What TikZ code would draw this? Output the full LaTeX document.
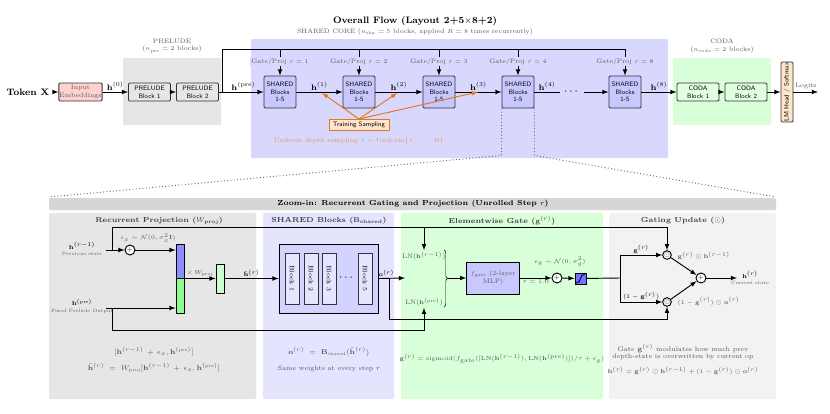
\documentclass[tikz,border=0pt]{standalone}
\usepackage{amsmath,amssymb}
\usepackage{tikz}
\usetikzlibrary{arrows,calc,shapes,decorations.pathreplacing}
\tikzset{>=latex}
\definecolor{corebg}{RGB}{216,216,255}
\definecolor{greenbg}{RGB}{216,255,216}
\definecolor{graybg}{RGB}{230,230,230}
\definecolor{lightbg}{RGB}{242,242,242}
\definecolor{barbg}{RGB}{214,214,214}
\definecolor{sharedfill}{RGB}{200,200,255}
\definecolor{orng}{RGB}{230,120,20}
\definecolor{txtgray}{RGB}{90,90,90}
\newcommand{\tinyfont}{\fontsize{5.5}{6.5}\selectfont}
\newcommand{\formfont}{\fontsize{5.6}{8}\selectfont}
\newcommand{\gfont}{\fontsize{5}{7}\selectfont}
\newcommand{\microfont}{\fontsize{4}{4.5}\selectfont}
\tikzstyle{block}=[rectangle,draw=black!80,thick,rounded corners=1pt,font=\sffamily\tinyfont,align=center,inner sep=0.5pt,minimum width=1.26cm,minimum height=0.54cm]
\tikzstyle{shared}=[block,fill=sharedfill,minimum width=0.96cm,minimum height=0.96cm]
\tikzstyle{lbl}=[font=\tinyfont,text=txtgray,inner sep=1pt]
\tikzstyle{hlbl}=[font=\scriptsize,inner sep=1pt]
\tikzstyle{panel}=[rounded corners=1pt,draw=none]
\tikzstyle{ptitle}=[font=\fontsize{6.2}{7}\selectfont\bfseries,text=black!75]
\tikzstyle{inblock}=[rectangle,draw=black!80,thick,fill=white!90!blue,minimum width=0.42cm,minimum height=1.53cm,inner sep=0pt]
\tikzstyle{opc}=[circle,draw=black,thick,fill=white,inner sep=0pt,minimum size=0.3cm,font=\tinyfont]
\tikzstyle{odot}=[circle,draw=black,thick,fill=white,inner sep=0pt,minimum size=0.26cm,font=\tinyfont]
\tikzstyle{formula}=[font=\formfont,text=txtgray,align=center]

\begin{document}
\begin{tikzpicture}[x=0.03cm,y=-0.03cm,thick]
	\useasboundingbox (0,0) rectangle (830,413);
	
	% backgrounds
	\fill[panel,fill=graybg] (123,58) rectangle (221,125);
	\fill[panel,fill=corebg] (251,39) rectangle (668,158);
	\fill[panel,fill=greenbg] (673,58) rectangle (771,125);
	
	\node[font=\footnotesize\bfseries] (title) at (415,21) {Overall Flow (Layout 2+5$\times$8+2)};
	\node[lbl] (coretitle) at (415,32) {SHARED CORE ($n_{\text{sha}}=5$ blocks, applied $R=8$ times recurrently)};
	\node[lbl,align=center] (pretitle) at (172,46) {PRELUDE\\($n_{\text{pre}}=2$ blocks)};
	\node[lbl,align=center] (codatitle) at (722,46) {CODA\\($n_{\text{coda}}=2$ blocks)};
	
	% main chain
	\node[font=\footnotesize\bfseries] (tok) at (28,92) {Token X};
	\node[block,fill=red!18,font=\tinyfont,text=txtgray] (emb) at (80.5,92) {Input\\Embeddings};
	\node[block,fill=graybg] (pre1) at (149.5,92) {PRELUDE\\Block 1};
	\node[block,fill=graybg] (pre2) at (197.5,92) {PRELUDE\\Block 2};
	\node[shared] (sh1) at (280,92) {SHARED\\Blocks\\1-5};
	\node[shared] (sh2) at (359,92) {SHARED\\Blocks\\1-5};
	\node[shared] (sh3) at (439,92) {SHARED\\Blocks\\1-5};
	\node[shared] (sh4) at (518,92) {SHARED\\Blocks\\1-5};
	\node (dots) at (572,92) {$\cdots$};
	\node[shared] (sh8) at (625,92) {SHARED\\Blocks\\1-5};
	\node[block,fill=greenbg!70!green!30] (coda1) at (698,92) {CODA\\Block 1};
	\node[block,fill=greenbg!70!green!30] (coda2) at (746,92) {CODA\\Block 2};
	\node[block,fill=orange!20,rotate=90,minimum width=1.8cm,minimum height=0.36cm] (lm) at (787,92) {LM Head / Softmax};
	\coordinate (logend) at (818,92);
	\node[lbl] (logits) at (806,86) {Logits};
	
	\draw[->] (tok) -- (emb);
	\draw[->] (emb) -- node[hlbl,above] {$\mathbf{h}^{(0)}$} (pre1);
	\draw[->] (pre1) -- (pre2);
	\draw[->] (pre2) -- node[hlbl,above,pos=0.55] {$\mathbf{h}^{(\text{pre})}$} (sh1);
	\draw[->] (sh1) -- node[hlbl,above] {$\mathbf{h}^{(1)}$} (sh2);
	\draw[->] (sh2) -- node[hlbl,above] {$\mathbf{h}^{(2)}$} (sh3);
	\draw[->] (sh3) -- node[hlbl,above] {$\mathbf{h}^{(3)}$} (sh4);
	\draw (sh4) -- node[hlbl,above] {$\mathbf{h}^{(4)}$} (dots);
	\draw[->] (dots) -- (sh8);
	\draw[->] (sh8) -- node[hlbl,above] {$\mathbf{h}^{(8)}$} (coda1);
	\draw[->] (coda1) -- (coda2);
	\draw[->] (coda2) -- (lm);
	\draw[->] (lm) -- (logend);
	
	% gate/proj bus
	\coordinate (busL) at (222,92);
	\coordinate (busR) at (625,49);
	\draw (busL) |- (busR);
	\foreach \s/\r in {sh1/1,sh2/2,sh3/3,sh4/4,sh8/8}{
		\draw[->] (\s.north |- busR) -- (\s.north);
		\node[lbl,fill=corebg] at ($(\s.north)+(0,-14)$) {Gate/Proj $r=\r$};
	}
	
	% training sampling
	\node[block,fill=orange!20,draw=orng,minimum width=1.8cm,minimum height=0.33cm,rounded corners=0pt] (train) at (359,125) {Training Sampling};
	\coordinate (t1) at (322,93);
	\coordinate (t2) at (397,93);
	\coordinate (t3) at (478,92);
	\foreach \t in {t1,t2,t3}
		\draw[->,orng] (train.north) -- (\t);
	\node[lbl,text=orng!80] (unif) at (359,141) {Uniform depth sampling $r\sim\mathrm{Uniform}\{1,\ldots,R\}$};
	
	% zoom connectors
	\coordinate (zl) at (49,197);
	\coordinate (zr) at (776,197);
	\draw[dotted,black!60] (sh4.south west) -- ++(0,47) -- (zl);
	\draw[dotted,black!60] (sh4.south east) -- ++(0,47) -- (zr);
	
	% ----- zoom-in -----
	\fill[panel,fill=barbg] (49,198) rectangle (776,210);
	\node[ptitle,text=black] (ztitle) at (413,204) {Zoom-in: Recurrent Gating and Projection (Unrolled Step $r$)};
	\fill[panel,fill=graybg] (49,213) rectangle (256,399);
	\fill[panel,fill=corebg!70!white] (263,213) rectangle (394,399);
	\fill[panel,fill=greenbg] (401,213) rectangle (603,399);
	\fill[panel,fill=lightbg] (609,213) rectangle (776,399);
	\node[ptitle] at (159,221) {Recurrent Projection ($W_{\text{proj}}$)};
	\node[ptitle] at (329,221) {SHARED Blocks ($\mathbf{B}_{\text{shared}}$)};
	\node[ptitle] at (502,221) {Elementwise Gate ($\mathbf{g}^{(r)}$)};
	\node[ptitle] at (683,221) {Gating Update ($\odot$)};
	
	% projection panel
	\node[lbl,text=black,align=center] (hprev) at (82,249) {$\mathbf{h}^{(r-1)}$\\[-1pt]{\microfont\color{txtgray} Previous state}};
	\node[lbl,text=black,align=center] (hpre) at (82,306) {$\mathbf{h}^{(\text{pre})}$\\[-1pt]{\microfont\color{txtgray} Fixed Prelude Output}};
	\coordinate (hprevE) at (106,250);
	\coordinate (hpreE) at (106,308);
	\coordinate (jt) at (112,250);
	\coordinate (jb) at (112,308);
	\node[opc] (plusx) at (130,250) {$+$};
	\node[lbl] at (148,238) {$\epsilon_x\sim\mathcal{N}(0,\sigma_x^2\mathbf{I})$};
	\node[rectangle,draw=black,thick,fill=blue!45,minimum width=0.24cm,minimum height=1.02cm,inner sep=0pt] (catA) at (180,261) {};
	\node[rectangle,draw=black,thick,fill=green!45,minimum width=0.24cm,minimum height=1.05cm,inner sep=0pt] (catB) at (180,295.5) {};
	\node[rectangle,draw=black,thick,fill=green!20,minimum width=0.24cm,minimum height=0.87cm,inner sep=0pt] (proj) at (220,278.5) {};
	\draw[->] (hprevE) -- (plusx);
	\draw[->] (plusx) -- (plusx -| catA.west);
	\draw[->] (hpreE) -- (hpreE -| catB.west);
	\draw[->] (catA.south east) -- node[lbl,above] {$\times\,W_{\text{proj}}$} (proj.west |- catA.south);
	
	% shared panel
	\node[rectangle,draw=black,thick,fill=sharedfill!80,minimum width=2.97cm,minimum height=2.07cm] (bshared) at (328.5,278.5) {};
	\foreach \n/\x/\l in {b1/292/1,b2/311/2,b3/329/3,b5/365/5}
		\node[inblock] (\n) at (\x,278.5) {\rotatebox{-90}{\tinyfont Block \l}};
	\node (bdots) at (347,278) {$\cdots$};
	\draw[->] (proj.east |- bshared) -- node[lbl,text=black,above] {$\tilde{\mathbf{h}}^{(r)}$} (bshared.west);
	\coordinate (oend) at (405,278);
	\draw[->] (bshared.east) -- node[lbl,text=black,above,pos=0.3] {$\mathbf{o}^{(r)}$} (oend);
	\coordinate (jo) at (389,278);
	
	% gate panel
	\node[lbl] (lnA) at (424,256) {LN($\mathbf{h}^{(r-1)}$)};
	\node[lbl] (lnB) at (424,302) {LN($\mathbf{h}^{(\text{pre})}$)};
	\draw[decorate,decoration={brace,amplitude=3pt},thin] (444,250) -- (444,307);
	\coordinate (brtip) at (448,278);
	\node[rectangle,draw=black,thick,fill=sharedfill,minimum width=1.56cm,minimum height=0.96cm,font=\tinyfont,text=txtgray,align=center] (fgate) at (493,278) {$f_{\text{gate}}$ (2-layer\\MLP)};
	\draw[->] (brtip) -- (fgate);
	\node[opc] (plusg) at (557,278) {$+$};
	\draw[->] (fgate) -- node[lbl,below] {$\tau=1.0$} (plusg);
	\node[lbl] at (560,262) {$\epsilon_g\sim\mathcal{N}(0,\sigma_g^2)$};
	\node[rectangle,draw=black,thick,fill=blue!55,minimum size=0.33cm,inner sep=0pt] (sig) at (580.5,278.5) {};
	\draw[blue!30!black] (576,283) .. controls (582,283) and (579,274) .. (585,274);
	\draw[->] (plusg) -- (sig);
	
	% update panel
	\node[odot] (gup) at (667,255) {$\odot$};
	\node[odot] (gdn) at (667,302) {$\odot$};
	\node[opc] (plush) at (701,278) {$+$};
	\coordinate (jg) at (620,278);
	\coordinate (hend) at (737,278);
	\node[lbl,text=black,align=center] (hout) at (750,278) {$\mathbf{h}^{(r)}$\\[-1pt]{\microfont\color{txtgray} Current state}};
	\draw (sig) -- (jg);
	\draw[->] (jg) |- node[lbl,text=black,above,pos=0.75] {$\mathbf{g}^{(r)}$} (gup);
	\draw[->] (jg) |- node[lbl,text=black,above,pos=0.75] {$(1-\mathbf{g}^{(r)})$} (gdn);
	\draw[->] (gup) -- node[lbl,font=\microfont,above right,pos=0.2] {$\mathbf{g}^{(r)}\odot\mathbf{h}^{(r-1)}$} (plush);
	\draw[->] (gdn) -- node[lbl,font=\microfont,below right,pos=0.2] {$(1-\mathbf{g}^{(r)})\odot\mathbf{o}^{(r)}$} (plush);
	\draw[->] (plush) -- (hend);
	
	% long routing lines
	\coordinate (topR) at (667,227);
	\coordinate (lnTop) at (424,227);
	\coordinate (lnBot) at (424,330);
	\coordinate (oR) at (667,319);
	\draw[->] (jt) |- (topR) -- (gup.north);
	\draw[->] (lnTop) -- (lnA.north);
	\draw[->] (jb) |- (lnBot) -- (lnB.south);
	\draw[->] (jo) |- (oR) -- (gdn.south);
	
	% formulas
	\node[formula] at (154,352) {$[\mathbf{h}^{(r-1)}\,+\,\epsilon_x,\mathbf{h}^{(\text{pre})}]$};
	\node[formula] at (154,368) {$\tilde{\mathbf{h}}^{(r)}\;=\;W_{\text{proj}}[\mathbf{h}^{(r-1)}\,+\,\epsilon_x,\mathbf{h}^{(\text{pre})}]$};
	\node[formula] at (329,352) {$\mathbf{o}^{(r)}\;=\;\mathbf{B}_{\text{shared}}\big(\tilde{\mathbf{h}}^{(r)}\big)$};
	\node[formula] at (329,369) {Same weights at every step $r$};
	\node[formula,font=\gfont] at (502,359) {$\mathbf{g}^{(r)}=\mathrm{sigmoid}(f_{\text{gate}}([\mathrm{LN}(\mathbf{h}^{(r-1)}),\mathrm{LN}(\mathbf{h}^{(\text{pre})})])/\tau+\epsilon_g)$};
	\node[formula] at (683,352) {Gate $\mathbf{g}^{(r)}$ modulates how much prev\\[-2pt]depth-state is overwritten by current op};
	\node[formula,font=\gfont] at (683,371) {$\mathbf{h}^{(r)}=\mathbf{g}^{(r)}\odot\mathbf{h}^{(r-1)}+(1-\mathbf{g}^{(r)})\odot\mathbf{o}^{(r)}$};
\end{tikzpicture}
\end{document}
